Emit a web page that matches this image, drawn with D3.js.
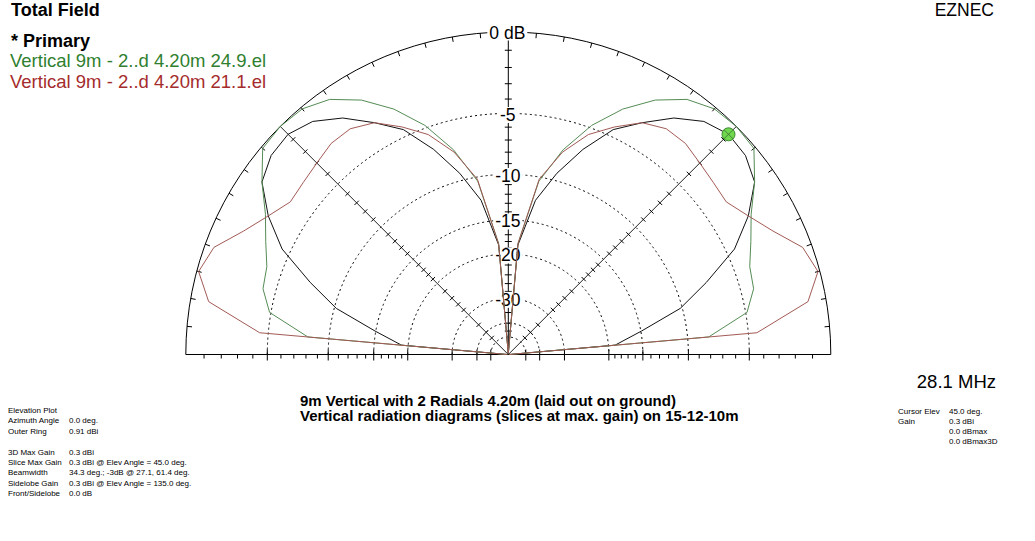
<!DOCTYPE html>
<html>
<head>
<meta charset="utf-8">
<script src="https://cdn.jsdelivr.net/npm/d3@7"></script>
<style>
    body { margin: 0; background: #fff; }
    svg { display: block; font-family: "Liberation Sans", Arial, sans-serif; }
</style>
</head>
<body>
<div id="chart"></div>
<script>
var svgWidth = 1035;
var svgHeight = 541;

var center = { x: 508.3, y: 354.5 };
var outerRadius = 322.5;

// elevation angles of the pattern samples (deg)
var elevAngles = [0, 5, 10, 15, 20, 25, 30, 35, 40, 45, 50, 55, 60, 65, 70, 75, 80, 85, 90,
    95, 100, 105, 110, 115, 120, 125, 130, 135, 140, 145, 150, 155, 160, 165, 170, 175, 180];

// field in dB relative to the outer ring (0.91 dBi)
var primaryDb = [-99, -18.9, -14.9, -10.2, -7.3, -4.4, -2.6, -1.2, -0.7, -0.6, -1.0, -1.9, -3.2, -4.5, -6.7, -9.3, -12.4, -18.5, -99,
    -18.5, -12.4, -9.3, -6.7, -4.5, -3.2, -1.9, -1.0, -0.6, -0.7, -1.2, -2.6, -4.4, -7.3, -10.2, -14.9, -18.9, -99];
var trace249Db = [-99, -8.1, -4.9, -4.1, -3.9, -3.2, -2.4, -1.2, -0.1, 0.0, -0.1, -0.6, -1.6, -3.0, -4.8, -7.2, -10.4, -18.2, -99,
    -18.2, -10.4, -7.2, -4.8, -3.0, -1.6, -0.6, -0.1, 0.0, -0.1, -1.2, -2.4, -3.2, -3.9, -4.1, -4.9, -8.1, -99];
var trace211Db = [-99, -4.4, -1.0, -0.1, -0.5, -1.7, -2.6, -3.3, -3.2, -3.0, -2.7, -2.7, -3.2, -4.3, -5.5, -7.4, -10.2, -18.3, -99,
    -18.3, -10.2, -7.4, -5.5, -4.3, -3.2, -2.7, -2.7, -3.0, -3.2, -3.3, -2.6, -1.7, -0.5, -0.1, -1.0, -4.4, -99];

var ringDb = [-5, -10, -15, -20, -30, -40, -50];
var ringLabelDb = [-5, -10, -15, -20, -30];
var axisTickDb = [-1, -2, -3, -4, -6, -7, -8, -9, -11, -12, -13, -14, -16, -17, -18, -19,
    -22, -24, -26, -28, -35, -40, -45];
var baseMinorDb = [-1, -2, -3, -4, -6, -7, -8, -9, -11, -12, -13, -14, -16, -17, -18, -19];

var legendNames = ['Vertical 9m - 2..d 4.20m 24.9.el', 'Vertical 9m - 2..d 4.20m 21.1.el'];
var titleLines = ['9m Vertical with 2 Radials 4.20m (laid out on ground)',
    'Vertical radiation diagrams (slices at max. gain) on 15-12-10m'];
var infoLabels = ['Elevation Plot', 'Azimuth Angle', 'Outer Ring', '', '3D Max Gain', 'Slice Max Gain',
    'Beamwidth', 'Sidelobe Gain', 'Front/Sidelobe'];
var infoValues = ['', '0.0 deg.', '0.91 dBi', '', '0.3 dBi', '0.3 dBi @ Elev Angle = 45.0 deg.',
    '34.3 deg.; -3dB @ 27.1, 61.4 deg.', '0.3 dBi @ Elev Angle = 135.0 deg.', '0.0 dB'];
var cursorLabels = ['Cursor Elev', 'Gain', '', ''];
var cursorValues = ['45.0 deg.', '0.3 dBi', '0.0 dBmax', '0.0 dBmax3D'];
var cursorElev = 45;

var svg = d3.select('#chart')
    .append('svg')
    .attr('width', svgWidth)
    .attr('height', svgHeight);

// ARRL log scale: each 2 dB shrinks radius by 0.89
var arrlScale = d3.scaleLinear().domain([0, 1]).range([0, outerRadius]);
function radius(db) {
    return arrlScale(Math.pow(0.89, -db / 2));
}
// elevation -> lineRadial angle (clockwise from 12 o'clock)
var angleScale = d3.scaleLinear().domain([0, 180]).range([Math.PI / 2, -Math.PI / 2]);

function polar(elev, r) {
    var a = angleScale(elev);
    return [r * Math.sin(a), -r * Math.cos(a)];
}

function halfCircle(r) {
    var p = d3.path();
    p.moveTo(-r, 0);
    p.arc(0, 0, r, Math.PI, 2 * Math.PI);
    return p.toString();
}

var plot = svg.append('g')
    .attr('transform', `translate(${center.x}, ${center.y})`);

// dotted rings
plot.selectAll('.ring')
    .data(ringDb)
    .enter()
    .append('path')
    .attr('d', d => halfCircle(radius(d)))
    .attr('fill', 'none')
    .attr('stroke', '#000')
    .attr('stroke-width', 1)
    .attr('stroke-dasharray', '2,3');

// outer ring
plot.append('path')
    .attr('d', halfCircle(radius(0)))
    .attr('fill', 'none')
    .attr('stroke', '#000')
    .attr('stroke-width', 1);

// outer ring ticks every 5 deg
var ringTickElev = d3.range(5, 180, 5).filter(e => e % 45 !== 0);
plot.selectAll('.rtick')
    .data(ringTickElev)
    .enter()
    .append('line')
    .attr('x1', d => polar(d, outerRadius)[0])
    .attr('y1', d => polar(d, outerRadius)[1])
    .attr('x2', d => polar(d, outerRadius - 5)[0])
    .attr('y2', d => polar(d, outerRadius - 5)[1])
    .attr('stroke', '#000');

// baseline
plot.append('line')
    .attr('x1', -outerRadius).attr('x2', outerRadius)
    .attr('y1', 0).attr('y2', 0)
    .attr('stroke', '#000');

[1, -1].forEach(function (side) {
    plot.selectAll('.bminor' + side)
        .data(baseMinorDb)
        .enter()
        .append('line')
        .attr('x1', d => side * radius(d)).attr('x2', d => side * radius(d))
        .attr('y1', 0).attr('y2', 4)
        .attr('stroke', '#000');
    plot.selectAll('.bmajor' + side)
        .data(ringDb)
        .enter()
        .append('line')
        .attr('x1', d => side * radius(d)).attr('x2', d => side * radius(d))
        .attr('y1', -5).attr('y2', 6)
        .attr('stroke', '#000');
});

// radial axes at 45, 90, 135 deg with ticks
[45, 90, 135].forEach(function (elev) {
    var end = polar(elev, outerRadius);
    plot.append('line')
        .attr('x1', 0).attr('y1', 0)
        .attr('x2', end[0]).attr('y2', end[1])
        .attr('stroke', elev === 90 ? '#000' : '#222');
    var e = elev * Math.PI / 180;
    var nx = Math.sin(e), ny = Math.cos(e);
    var half = elev === 90 ? 3.5 : 3;
    plot.selectAll('.atick' + elev)
        .data(axisTickDb)
        .enter()
        .append('line')
        .attr('x1', d => polar(elev, radius(d))[0] - half * nx)
        .attr('y1', d => polar(elev, radius(d))[1] - half * ny)
        .attr('x2', d => polar(elev, radius(d))[0] + half * nx)
        .attr('y2', d => polar(elev, radius(d))[1] + half * ny)
        .attr('stroke', '#000');
});

// axis labels with white background
function boxedLabel(x, y, txt, size) {
    var g = plot.append('g');
    var rect = g.append('rect').attr('fill', '#fff');
    var t = g.append('text')
        .attr('x', x)
        .attr('y', y)
        .attr('text-anchor', 'middle')
        .attr('dominant-baseline', 'central')
        .attr('font-size', size)
        .attr('fill', '#000')
        .text(txt);
    var bb = t.node().getBBox();
    rect.attr('x', bb.x - 2).attr('y', bb.y + 2)
        .attr('width', bb.width + 4).attr('height', bb.height - 4);
}

boxedLabel(polar(90, radius(0))[0] - 1, polar(90, radius(0))[1] + 0.5, '0 dB', '17.5px');
ringLabelDb.forEach(function (db) {
    var p = polar(90, radius(db));
    boxedLabel(p[0] - 0.5, p[1] + 1.5, String(db), '17.5px');
});

// pattern traces
var radialLine = d3.lineRadial()
    .angle(d => angleScale(d[0]))
    .radius(d => radius(d[1]));

var traces = [
    { values: primaryDb, color: '#111' },
    { values: trace249Db, color: '#558c55' },
    { values: trace211Db, color: '#a25a55' }
];

plot.selectAll('.trace')
    .data(traces)
    .enter()
    .append('path')
    .attr('d', t => radialLine(elevAngles.map((e, i) => [e, t.values[i]])))
    .attr('fill', 'none')
    .attr('stroke', t => t.color)
    .attr('stroke-width', 1);

// cursor marker on primary trace
var cursorPt = polar(cursorElev, radius(primaryDb[elevAngles.indexOf(cursorElev)]));
plot.append('circle')
    .attr('cx', cursorPt[0]).attr('cy', cursorPt[1])
    .attr('r', 6.5)
    .attr('fill', '#6fd84f')
    .attr('stroke', '#3b8a2f')
    .attr('stroke-width', 1);
[[1, 1], [1, -1]].forEach(function (d) {
    plot.append('line')
        .attr('x1', cursorPt[0] - 4.5 * d[0]).attr('y1', cursorPt[1] - 4.5 * d[1])
        .attr('x2', cursorPt[0] + 4.5 * d[0]).attr('y2', cursorPt[1] + 4.5 * d[1])
        .attr('stroke', '#3a6e30')
        .attr('stroke-width', 0.8);
});

// header texts
svg.append('text')
    .attr('x', 11).attr('y', 16)
    .attr('font-size', '18px').attr('font-weight', 'bold')
    .text('Total Field');

svg.append('text')
    .attr('x', 994).attr('y', 16)
    .attr('text-anchor', 'end')
    .attr('font-size', '17.5px')
    .text('EZNEC');

svg.append('text')
    .attr('x', 11).attr('y', 47)
    .attr('font-size', '18px').attr('font-weight', 'bold')
    .text('* Primary');

svg.selectAll('.legend')
    .data(legendNames)
    .enter()
    .append('text')
    .attr('x', 10)
    .attr('y', (d, i) => 67 + i * 20.5)
    .attr('font-size', '18.5px')
    .attr('fill', (d, i) => i === 0 ? '#2f7f2f' : '#a52c2c')
    .text(d => d);

svg.append('text')
    .attr('x', 996).attr('y', 388)
    .attr('text-anchor', 'end')
    .attr('font-size', '18.5px')
    .text('28.1 MHz');

svg.selectAll('.title')
    .data(titleLines)
    .enter()
    .append('text')
    .attr('x', 300)
    .attr('y', (d, i) => 405.5 + i * 15.5)
    .attr('font-size', '15px')
    .attr('font-weight', 'bold')
    .text(d => d);

// bottom info blocks
var info = svg.append('g').attr('font-size', '8px').attr('fill', '#000');
infoLabels.forEach(function (lab, i) {
    info.append('text').attr('x', 8).attr('y', 413 + i * 10.4).text(lab);
    info.append('text').attr('x', 69).attr('y', 413 + i * 10.4).text(infoValues[i]);
});

var cursorInfo = svg.append('g').attr('font-size', '8px').attr('fill', '#000');
cursorLabels.forEach(function (lab, i) {
    cursorInfo.append('text').attr('x', 898).attr('y', 413.5 + i * 10).text(lab);
    cursorInfo.append('text').attr('x', 949).attr('y', 413.5 + i * 10).text(cursorValues[i]);
});
</script>
</body>
</html>
